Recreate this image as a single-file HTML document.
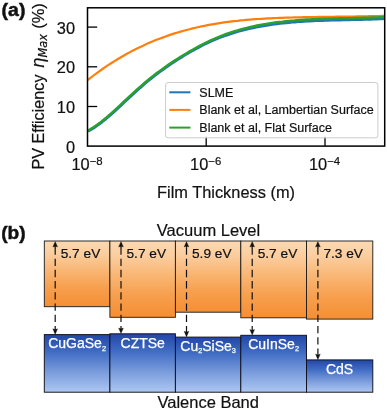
<!DOCTYPE html>
<html><head><meta charset="utf-8"><title>Figure</title>
<style>
html,body{margin:0;padding:0;background:#fff;}
svg{display:block;}
text{font-family:"Liberation Sans",Arial,Helvetica,sans-serif;fill:#111;stroke:#111;stroke-width:0.2px;}
</style></head><body>
<svg width="387" height="410" viewBox="0 0 387 410">
<defs>
<linearGradient id="og" x1="0" y1="0" x2="0" y2="1">
<stop offset="0" stop-color="#fcd9b2"/><stop offset="0.2" stop-color="#fbcd9e"/><stop offset="0.45" stop-color="#f9b674"/><stop offset="0.7" stop-color="#f7a04f"/><stop offset="1" stop-color="#f58e33"/>
</linearGradient>
<linearGradient id="bg" x1="0" y1="0" x2="0" y2="1">
<stop offset="0" stop-color="#2246a6"/><stop offset="0.3" stop-color="#406cc4"/><stop offset="0.65" stop-color="#7a9cdc"/><stop offset="1" stop-color="#adc7f2"/>
</linearGradient>
<clipPath id="cp"><rect x="87.5" y="7.8" width="297.2" height="138.29999999999998"/></clipPath>
</defs>
<rect width="387" height="410" fill="#fff"/>

<g clip-path="url(#cp)" fill="none" stroke-linejoin="round">
<path d="M88.0,131.3 L91.0,129.6 L94.0,127.8 L97.0,125.7 L100.0,123.6 L103.0,121.2 L106.0,118.8 L109.0,116.2 L112.0,113.6 L115.0,110.9 L118.0,108.2 L121.0,105.4 L124.0,102.6 L127.0,99.7 L130.0,97.0 L133.0,94.2 L136.0,91.5 L139.0,88.8 L142.0,86.1 L145.0,83.5 L148.0,81.0 L151.0,78.6 L154.0,76.2 L157.0,73.9 L160.0,71.6 L163.0,69.5 L166.0,67.3 L169.0,65.3 L172.0,63.2 L175.0,61.3 L178.0,59.4 L181.0,57.5 L184.0,55.6 L187.0,53.9 L190.0,52.1 L193.0,50.4 L196.0,48.8 L199.0,47.2 L202.0,45.6 L205.0,44.1 L208.0,42.7 L211.0,41.3 L214.0,40.0 L217.0,38.7 L220.0,37.5 L223.0,36.4 L226.0,35.3 L229.0,34.3 L232.0,33.3 L235.0,32.4 L238.1,31.5 L241.1,30.7 L244.1,29.9 L247.1,29.2 L250.1,28.5 L253.1,27.8 L256.1,27.2 L259.1,26.6 L262.1,26.1 L265.1,25.6 L268.1,25.1 L271.1,24.6 L274.1,24.2 L277.1,23.8 L280.1,23.4 L283.1,23.1 L286.1,22.8 L289.1,22.5 L292.1,22.2 L295.1,22.0 L298.1,21.7 L301.1,21.5 L304.1,21.3 L307.1,21.2 L310.1,21.0 L313.1,20.8 L316.1,20.7 L319.1,20.6 L322.1,20.5 L325.1,20.4 L328.1,20.3 L331.1,20.2 L334.1,20.1 L337.1,20.1 L340.1,20.0 L343.1,19.9 L346.1,19.9 L349.1,19.8 L352.1,19.7 L355.1,19.7 L358.1,19.6 L361.1,19.5 L364.1,19.4 L367.1,19.3 L370.1,19.3 L373.1,19.1 L376.1,19.0 L379.1,18.9 L382.1,18.8 L385.1,18.6" stroke="#1f77b4" stroke-width="2.8"/>
<path d="M87.5,80.1 L90.5,77.8 L93.5,75.5 L96.5,73.3 L99.5,71.1 L102.5,69.0 L105.5,66.9 L108.5,64.9 L111.5,63.0 L114.5,61.1 L117.5,59.3 L120.5,57.5 L123.5,55.7 L126.5,54.0 L129.5,52.4 L132.5,50.8 L135.5,49.3 L138.5,47.8 L141.5,46.4 L144.5,45.0 L147.5,43.6 L150.5,42.3 L153.5,41.1 L156.5,39.8 L159.5,38.7 L162.6,37.6 L165.6,36.5 L168.6,35.4 L171.6,34.4 L174.6,33.4 L177.6,32.5 L180.6,31.6 L183.6,30.8 L186.6,30.0 L189.6,29.2 L192.6,28.4 L195.6,27.7 L198.6,27.0 L201.6,26.4 L204.6,25.8 L207.6,25.2 L210.6,24.6 L213.6,24.1 L216.6,23.6 L219.6,23.1 L222.6,22.6 L225.6,22.2 L228.6,21.8 L231.6,21.4 L234.6,21.1 L237.6,20.8 L240.6,20.4 L243.6,20.2 L246.6,19.9 L249.6,19.6 L252.6,19.4 L255.6,19.2 L258.6,19.0 L261.6,18.8 L264.6,18.6 L267.6,18.4 L270.6,18.3 L273.6,18.1 L276.6,18.0 L279.6,17.9 L282.6,17.8 L285.6,17.7 L288.6,17.6 L291.6,17.5 L294.6,17.4 L297.6,17.3 L300.6,17.3 L303.6,17.2 L306.6,17.1 L309.6,17.1 L312.7,17.0 L315.7,17.0 L318.7,16.9 L321.7,16.9 L324.7,16.9 L327.7,16.8 L330.7,16.8 L333.7,16.8 L336.7,16.7 L339.7,16.7 L342.7,16.6 L345.7,16.6 L348.7,16.6 L351.7,16.5 L354.7,16.5 L357.7,16.4 L360.7,16.4 L363.7,16.3 L366.7,16.3 L369.7,16.2 L372.7,16.1 L375.7,16.0 L378.7,16.0 L381.7,15.9 L384.7,15.8" stroke="#ff7f0e" stroke-width="2.2"/>
<path d="M87.5,130.8 L90.5,129.1 L93.5,127.3 L96.5,125.2 L99.5,123.1 L102.5,120.7 L105.5,118.3 L108.5,115.7 L111.5,113.1 L114.5,110.4 L117.5,107.6 L120.5,104.8 L123.5,102.0 L126.5,99.2 L129.5,96.4 L132.5,93.7 L135.5,90.9 L138.5,88.2 L141.5,85.6 L144.5,83.0 L147.5,80.5 L150.5,78.0 L153.5,75.6 L156.5,73.3 L159.5,71.1 L162.6,68.9 L165.6,66.7 L168.6,64.6 L171.6,62.6 L174.6,60.6 L177.6,58.7 L180.6,56.8 L183.6,55.0 L186.6,53.2 L189.6,51.4 L192.6,49.7 L195.6,48.0 L198.6,46.4 L201.6,44.8 L204.6,43.3 L207.6,41.8 L210.6,40.4 L213.6,39.1 L216.6,37.8 L219.6,36.5 L222.6,35.3 L225.6,34.2 L228.6,33.1 L231.6,32.1 L234.6,31.2 L237.6,30.3 L240.6,29.4 L243.6,28.6 L246.6,27.9 L249.6,27.1 L252.6,26.5 L255.6,25.8 L258.6,25.2 L261.6,24.6 L264.6,24.1 L267.6,23.6 L270.6,23.1 L273.6,22.7 L276.6,22.3 L279.6,21.9 L282.6,21.6 L285.6,21.2 L288.6,20.9 L291.6,20.6 L294.6,20.4 L297.6,20.1 L300.6,19.9 L303.6,19.7 L306.6,19.5 L309.6,19.4 L312.7,19.2 L315.7,19.1 L318.7,19.0 L321.7,18.9 L324.7,18.8 L327.7,18.7 L330.7,18.6 L333.7,18.5 L336.7,18.4 L339.7,18.3 L342.7,18.3 L345.7,18.2 L348.7,18.2 L351.7,18.1 L354.7,18.0 L357.7,17.9 L360.7,17.9 L363.7,17.8 L366.7,17.7 L369.7,17.6 L372.7,17.5 L375.7,17.4 L378.7,17.3 L381.7,17.1 L384.7,17.0" stroke="#2ca02c" stroke-width="2.4"/>
</g>
<g stroke="#000" stroke-width="1.3">
<line x1="87.5" y1="106.5" x2="97.2" y2="106.5"/>
<line x1="87.5" y1="66.8" x2="97.2" y2="66.8"/>
<line x1="87.5" y1="27.1" x2="97.2" y2="27.1"/>
<line x1="206.2" y1="146.1" x2="206.2" y2="136.4"/>
<line x1="325.0" y1="146.1" x2="325.0" y2="136.4"/>
</g>
<rect x="165.6" y="82.5" width="212.3" height="55.3" rx="2.5" ry="2.5" fill="#fff" fill-opacity="0.8" stroke="#ccc" stroke-width="1"/>
<line x1="169.3" y1="92.3" x2="190.4" y2="92.3" stroke="#1f77b4" stroke-width="2"/>
<text x="199.3" y="96.6" font-size="12.5">SLME</text>
<line x1="169.3" y1="109.9" x2="190.4" y2="109.9" stroke="#ff7f0e" stroke-width="2"/>
<text x="199.3" y="114.2" font-size="12.5">Blank et al, Lambertian Surface</text>
<line x1="169.3" y1="127.6" x2="190.4" y2="127.6" stroke="#2ca02c" stroke-width="2"/>
<text x="199.3" y="131.9" font-size="12.5">Blank et al, Flat Surface</text>
<rect x="87.5" y="7.8" width="297.2" height="138.29999999999998" fill="none" stroke="#000" stroke-width="1.5"/>
<text x="75.1" y="152.6" font-size="16.4" text-anchor="end">0</text>
<text x="75.1" y="112.9" font-size="16.4" text-anchor="end">10</text>
<text x="75.1" y="73.2" font-size="16.4" text-anchor="end">20</text>
<text x="75.1" y="33.5" font-size="16.4" text-anchor="end">30</text>
<text x="71.4" y="170.3" font-size="16.4">10<tspan dy="-5.8" font-size="11.4">−8</tspan></text>
<text x="190.1" y="170.3" font-size="16.4">10<tspan dy="-5.8" font-size="11.4">−6</tspan></text>
<text x="308.9" y="170.3" font-size="16.4">10<tspan dy="-5.8" font-size="11.4">−4</tspan></text>
<text x="157" y="198" font-size="16.5" textLength="138" lengthAdjust="spacingAndGlyphs">Film Thickness (m)</text>
<text transform="translate(44.4,169.6) rotate(-90)" font-size="16.5"><tspan font-size="16.2">PV Efficiency </tspan><tspan font-style="italic" font-family="DejaVu Sans, sans-serif" font-size="16.8" dx="1.8">η</tspan><tspan font-style="italic" font-family="DejaVu Sans, sans-serif" font-size="11.4" dy="2.6">Max</tspan><tspan dy="-2.6" dx="0.6"> (%)</tspan></text>
<text x="1.6" y="15.6" font-size="18" font-weight="bold" style="stroke-width:0.45px" textLength="23.8" lengthAdjust="spacingAndGlyphs">(a)</text>
<text x="1.2" y="238.7" font-size="18" font-weight="bold" style="stroke-width:0.45px" textLength="24.4" lengthAdjust="spacingAndGlyphs">(b)</text>
<text x="208.5" y="236.1" font-size="16.5" text-anchor="middle">Vacuum Level</text>
<text x="208.2" y="408.2" font-size="16.5" text-anchor="middle">Valence Band</text>
<rect x="44.3" y="241.0" width="65.6" height="65.7" fill="url(#og)" stroke="#1a1a1a" stroke-width="0.9"/>
<rect x="44.3" y="334.6" width="65.6" height="57.6" fill="url(#bg)" stroke="#10101a" stroke-width="0.95"/>
<rect x="109.9" y="241.0" width="65.5" height="76.3" fill="url(#og)" stroke="#1a1a1a" stroke-width="0.9"/>
<rect x="109.9" y="333.8" width="65.5" height="58.4" fill="url(#bg)" stroke="#10101a" stroke-width="0.95"/>
<rect x="175.4" y="241.0" width="65.4" height="71.2" fill="url(#og)" stroke="#1a1a1a" stroke-width="0.9"/>
<rect x="175.4" y="337.1" width="65.4" height="55.1" fill="url(#bg)" stroke="#10101a" stroke-width="0.95"/>
<rect x="240.8" y="241.0" width="65.7" height="76.8" fill="url(#og)" stroke="#1a1a1a" stroke-width="0.9"/>
<rect x="240.8" y="335.3" width="65.7" height="56.9" fill="url(#bg)" stroke="#10101a" stroke-width="0.95"/>
<rect x="306.5" y="241.0" width="66.3" height="78.1" fill="url(#og)" stroke="#1a1a1a" stroke-width="0.9"/>
<rect x="306.5" y="359.9" width="66.3" height="32.3" fill="url(#bg)" stroke="#10101a" stroke-width="0.95"/>
<line x1="55.2" y1="247.4" x2="55.2" y2="330.6" stroke="#111" stroke-width="1.2" stroke-dasharray="7.3,3.93"/>
<path d="M55.2,241.4 l2.4,5.6 l-2.4,-0.8 v2 v-2 l-2.4,0.8 z" fill="#111" stroke="#111" stroke-width="0.3"/><line x1="55.2" y1="245.0" x2="55.2" y2="247.5" stroke="#111" stroke-width="1.2"/>
<path d="M55.2,334.40000000000003 l2.4,-5.6 l-2.4,0.8 l-2.4,-0.8 z" fill="#111" stroke="#111" stroke-width="0.3"/>
<text x="60.7" y="258" font-size="13.7">5.7 eV</text>
<text x="77.1" y="348.3" font-size="14" text-anchor="middle" style="fill:#fff;stroke:#fff;stroke-width:0.25px">CuGaSe<tspan font-size="7.3" dy="2.2">2</tspan></text>
<line x1="121.0" y1="247.4" x2="121.0" y2="329.8" stroke="#111" stroke-width="1.2" stroke-dasharray="7.3,3.93"/>
<path d="M121.0,241.4 l2.4,5.6 l-2.4,-0.8 v2 v-2 l-2.4,0.8 z" fill="#111" stroke="#111" stroke-width="0.3"/><line x1="121.0" y1="245.0" x2="121.0" y2="247.5" stroke="#111" stroke-width="1.2"/>
<path d="M121.0,333.6 l2.4,-5.6 l-2.4,0.8 l-2.4,-0.8 z" fill="#111" stroke="#111" stroke-width="0.3"/>
<text x="126.5" y="258" font-size="13.7">5.7 eV</text>
<text x="142.7" y="347.6" font-size="14" text-anchor="middle" style="fill:#fff;stroke:#fff;stroke-width:0.25px">CZTSe</text>
<line x1="186.5" y1="247.4" x2="186.5" y2="333.1" stroke="#111" stroke-width="1.2" stroke-dasharray="7.3,3.93"/>
<path d="M186.5,241.4 l2.4,5.6 l-2.4,-0.8 v2 v-2 l-2.4,0.8 z" fill="#111" stroke="#111" stroke-width="0.3"/><line x1="186.5" y1="245.0" x2="186.5" y2="247.5" stroke="#111" stroke-width="1.2"/>
<path d="M186.5,336.90000000000003 l2.4,-5.6 l-2.4,0.8 l-2.4,-0.8 z" fill="#111" stroke="#111" stroke-width="0.3"/>
<text x="192.0" y="258" font-size="13.7">5.9 eV</text>
<text x="208.1" y="350.7" font-size="14" text-anchor="middle" style="fill:#fff;stroke:#fff;stroke-width:0.25px">Cu<tspan font-size="7.3" dy="2.2">2</tspan><tspan dy="-2.2">SiSe</tspan><tspan font-size="7.3" dy="2.2">3</tspan></text>
<line x1="252.2" y1="247.4" x2="252.2" y2="331.3" stroke="#111" stroke-width="1.2" stroke-dasharray="7.3,3.93"/>
<path d="M252.2,241.4 l2.4,5.6 l-2.4,-0.8 v2 v-2 l-2.4,0.8 z" fill="#111" stroke="#111" stroke-width="0.3"/><line x1="252.2" y1="245.0" x2="252.2" y2="247.5" stroke="#111" stroke-width="1.2"/>
<path d="M252.2,335.1 l2.4,-5.6 l-2.4,0.8 l-2.4,-0.8 z" fill="#111" stroke="#111" stroke-width="0.3"/>
<text x="257.7" y="258" font-size="13.7">5.7 eV</text>
<text x="273.6" y="348.9" font-size="14" text-anchor="middle" style="fill:#fff;stroke:#fff;stroke-width:0.25px">CuInSe<tspan font-size="7.3" dy="2.2">2</tspan></text>
<line x1="317.9" y1="247.4" x2="317.9" y2="355.9" stroke="#111" stroke-width="1.2" stroke-dasharray="7.3,3.93"/>
<path d="M317.9,241.4 l2.4,5.6 l-2.4,-0.8 v2 v-2 l-2.4,0.8 z" fill="#111" stroke="#111" stroke-width="0.3"/><line x1="317.9" y1="245.0" x2="317.9" y2="247.5" stroke="#111" stroke-width="1.2"/>
<path d="M317.9,359.7 l2.4,-5.6 l-2.4,0.8 l-2.4,-0.8 z" fill="#111" stroke="#111" stroke-width="0.3"/>
<text x="323.4" y="258" font-size="13.7">7.3 eV</text>
<text x="339.6" y="373.8" font-size="14" text-anchor="middle" style="fill:#fff;stroke:#fff;stroke-width:0.25px">CdS</text>
</svg></body></html>
